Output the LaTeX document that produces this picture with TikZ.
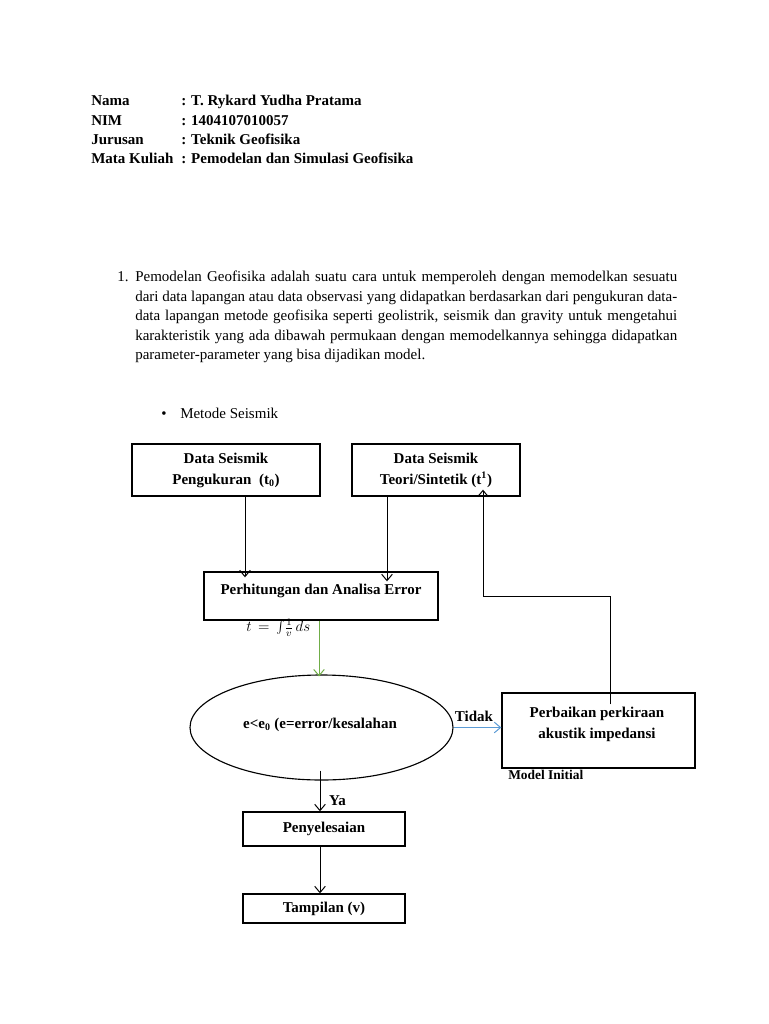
\documentclass[tikz,border=0pt]{standalone}
\usepackage{fontspec}
\setmainfont{Liberation Serif}
\usetikzlibrary{shapes.geometric,arrows.meta,calc}
\definecolor{tgreen}{RGB}{112,173,71}
\definecolor{tblue}{RGB}{91,155,213}
\newcommand\myft{\fontsize{12}{15.6}\selectfont}
\begin{document}
\begin{tikzpicture}[x=0.8pt,y=-0.8pt,
  wh/.style 2 args={minimum width=#1*0.8pt, minimum height=#2*0.8pt},
  box/.style={draw, line width=1.1pt, inner sep=0pt, align=center, font=\myft\bfseries},
  txt/.style={inner sep=0pt, align=center, font=\myft\bfseries},
  body/.style={inner sep=0pt, anchor=base west, font=\myft},
  head/.style={inner sep=0pt, anchor=base west, font=\myft\bfseries},
  arr/.style={draw, line width=0.8pt, -{Straight Barb[length=5pt,width=8.5pt]}}]
\useasboundingbox (0,0) rectangle (768,1024);
\fill[white] (0,0) rectangle (768,1024);

% header
\node[head] (h1) at (91,106) {Nama};
\node[head] (h2) at (91,126) {NIM};
\node[head] (h3) at (91,145) {Jurusan};
\node[head] (h4) at (91,164) {Mata Kuliah};
\node[head] (v1) at (181,106) {: T. Rykard Yudha Pratama};
\node[head] (v2) at (181,126) {: 1404107010057};
\node[head] (v3) at (181,145) {: Teknik Geofisika};
\node[head] (v4) at (181,164) {: Pemodelan dan Simulasi Geofisika};

% paragraph
\node[body] (num) at (117,281) {1.};
\node[body] (l1) at (135,281) {\makebox[433.6pt][s]{Pemodelan Geofisika adalah suatu cara untuk memperoleh dengan memodelkan sesuatu}};
\node[body] (l2) at (135,301) {\makebox[433.6pt][s]{dari data lapangan atau data observasi yang didapatkan berdasarkan dari pengukuran data-}};
\node[body] (l3) at (135,320) {\makebox[433.6pt][s]{data lapangan metode geofisika seperti geolistrik, seismik dan gravity untuk mengetahui}};
\node[body] (l4) at (135,340) {\makebox[433.6pt][s]{karakteristik yang ada dibawah permukaan dengan memodelkannya sehingga didapatkan}};
\node[body] (l5) at (135,359) {parameter-parameter yang bisa dijadikan model.};

\node[body] (bul) at (161,418) {\textbullet};
\node[body] (met) at (180,418) {Metode Seismik};

% flowchart
\node[box, wh={188}{52}] (b1) at (226,470) {Data Seismik\\[1.2pt]Pengukuran~~(t\textsubscript{0})};
\node[box, wh={168}{52}] (b2) at (436,470) {Data Seismik\\[1.2pt]Teori/Sintetik (t\textsuperscript{1})};
\node[box, wh={234}{48}] (b3) at (321,596) {};
\node[txt] (b3t) at (321,591) {Perhitungan dan Analisa Error};
\node[inner sep=0pt, anchor=west, font=\myft] (form) at (246,628) {$t\,=\,\int\!\frac{1}{v}\,ds$};

\node[draw, ellipse, line width=0.9pt, inner sep=0pt, wh={263}{105}] (el) at (321.5,727.5) {};
\node[txt] (elt) at (320,725) {e<e\textsubscript{0} (e=error/kesalahan};

\node[box, wh={193}{75}] (b4) at (598.5,730.5) {};
\node[txt] (b4t) at (597,724.5) {Perbaikan perkiraan\\[1.2pt]akustik impedansi};
\node[inner sep=0pt, anchor=west, font=\fontsize{10.75}{12}\selectfont\bfseries] (mi) at (508,775) {Model Initial};

\node[txt] (tidak) at (474,716) {Tidak};
\node[txt] (ya) at (337.5,801) {Ya};

\node[box, wh={162}{34}] (b5) at (324,829) {Penyelesaian};
\node[box, wh={162}{29}] (b6) at (324,908.5) {Tampilan (v)};

% connectors
\coordinate (c1) at (245,0);
\coordinate (c2) at (387,0);
\coordinate (c3) at (319,0);
\coordinate (c4) at (320,0);
\coordinate (c5) at (610,0);
\coordinate (fbc) at (483,596);

\draw[arr] (b1.south -| c1) -- ($(b3.north -| c1)+(0,6)$);
\draw[arr] (b2.south -| c2) -- ($(b3.north -| c2)+(0,10)$);
\draw[arr, tgreen] (b3.south -| c3) -- ($(el.north -| c3)+(0,2)$);
\draw[arr, tblue] (el.east) -- (b4.west |- el.east);
\draw[arr] ($(el.south -| c4)+(0,-10)$) -- (b5.north -| c4);
\draw[arr] (b5.south -| c4) -- (b6.north -| c4);
\draw[arr] ($(b4.north -| c5)+(0,12)$) |- (fbc) -- ($(b2.south -| fbc)+(0,-7)$);
\end{tikzpicture}
\end{document}
